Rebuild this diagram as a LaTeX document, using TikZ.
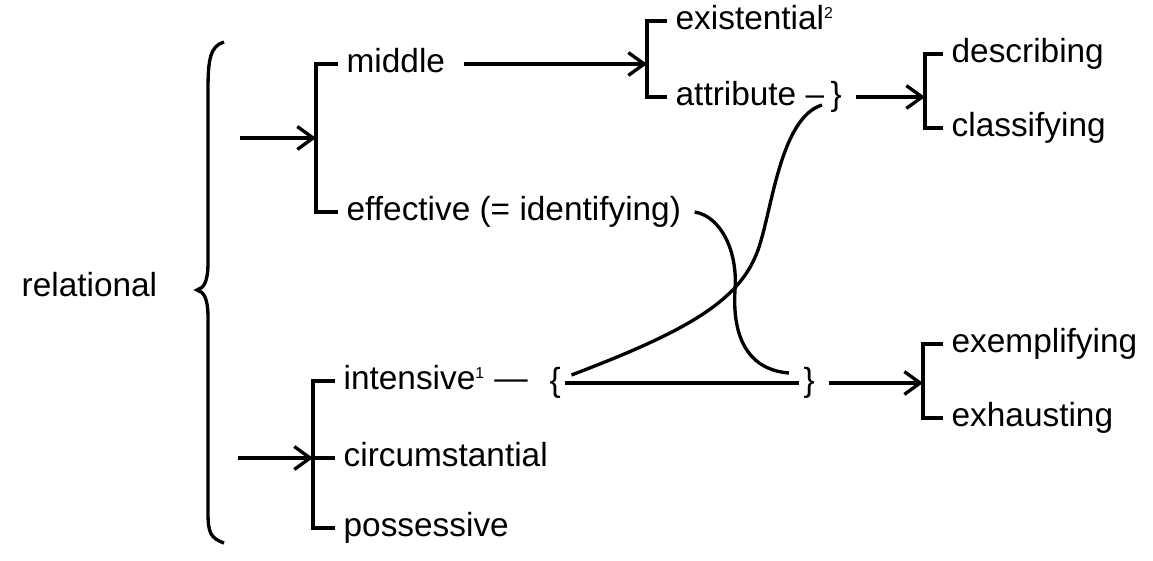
\documentclass[tikz,border=0pt]{standalone}
\usepackage{fontspec}
\setmainfont{Liberation Sans}
\usetikzlibrary{arrows.meta}
\usetikzlibrary{positioning}
\newcommand\fnmark[1]{\textsuperscript{\fontsize{9}{9}\selectfont #1}}
\tikzset{
  lbl/.style={anchor=west, inner xsep=0.14cm, inner ysep=0pt, text height=1.6ex, text depth=0.6ex},
  brc/.style={anchor=west, inner xsep=0.06cm, inner ysep=0pt, text height=1.6ex, text depth=0.6ex},
  arr/.style={-{Straight Barb[length=9pt,width=13pt]}, shorten <=0.2cm},
}
\begin{document}
\fontsize{19}{22}\selectfont
\begin{tikzpicture}[x=0.02cm, y=-0.02cm, line width=1.9pt]
      \useasboundingbox (0,0) rectangle (1153,561);
      % big brace
      \node[lbl, inner xsep=0pt] (rel) at (20,288) {relational};
      \draw (224,42) .. controls (210,46) and (208,60) .. (208,90) -- (208,262)
            .. controls (208,282) and (204,288) .. (197,290)
            .. controls (204,292) and (208,298) .. (208,318) -- (208,512)
            .. controls (208,532) and (210,538) .. (224,543);
      % upper system
      \coordinate (a1) at (240,138);
      \coordinate (b1) at (316,138);
      \node[lbl] (mid) at (338,64) {middle};
      \node[lbl] (eff) at (338,212) {effective (= identifying)};
      \draw[arr, shorten <=0pt] (a1) -- (b1);
      \draw (mid.west) -- ++(-22,0) |- (eff.west);
      \coordinate (b2) at (647,64);
      \node[lbl] (ex) at (667,21) {existential\fnmark{2}};
      \node[lbl] (attr) at (667,97) {attribute --};
      \node[brc] (ab) at (826,97) {\}};
      \draw[arr] (mid.east) -- (b2);
      \draw (ex.west) -- ++(-20,0) |- (attr.west);
      \coordinate (b3) at (925,97);
      \node[lbl] (desc) at (943,54) {describing};
      \node[lbl] (cls) at (943,128) {classifying};
      \draw[arr] (ab.east) -- (b3);
      \draw (desc.west) -- ++(-18,0) |- (cls.west);
      % lower system
      \coordinate (a2) at (238,458);
      \coordinate (b4) at (313,458);
      \node[lbl] (int) at (335,381) {intensive\fnmark{1} ---};
      \node[lbl] (circ) at (335,458) {circumstantial};
      \node[lbl] (pos) at (335,528) {possessive};
      \draw[arr, shorten <=0pt] (a2) -- (b4);
      \draw (int.west) -- ++(-22,0) |- (pos.west);
      \draw (circ.west) -- (b4);
      \node[brc] (lb) at (545,383) {\{};
      \node[brc] (rb) at (799,383) {\}};
      \draw (lb.east) -- (rb.west);
      \coordinate (b5) at (923,383);
      \node[lbl] (exm) at (943,344) {exemplifying};
      \node[lbl] (exh) at (943,418) {exhausting};
      \draw[arr] (rb.east) -- (b5);
      \draw (exm.west) -- ++(-20,0) |- (exh.west);
      % crossing curves
      \draw ([shift={(6,-8)}]lb.east) .. controls (690,330) and (740,300) .. (758,250)
            .. controls (772,211) and (780,118) .. ([shift={(-4,8)}]ab.west);
      \draw ([xshift=0.1cm]eff.east) .. controls (720,216) and (738,250) .. (735,290)
            .. controls (732,340) and (750,370) .. ([shift={(-10,-10)}]rb.west);
\end{tikzpicture}
\end{document}
